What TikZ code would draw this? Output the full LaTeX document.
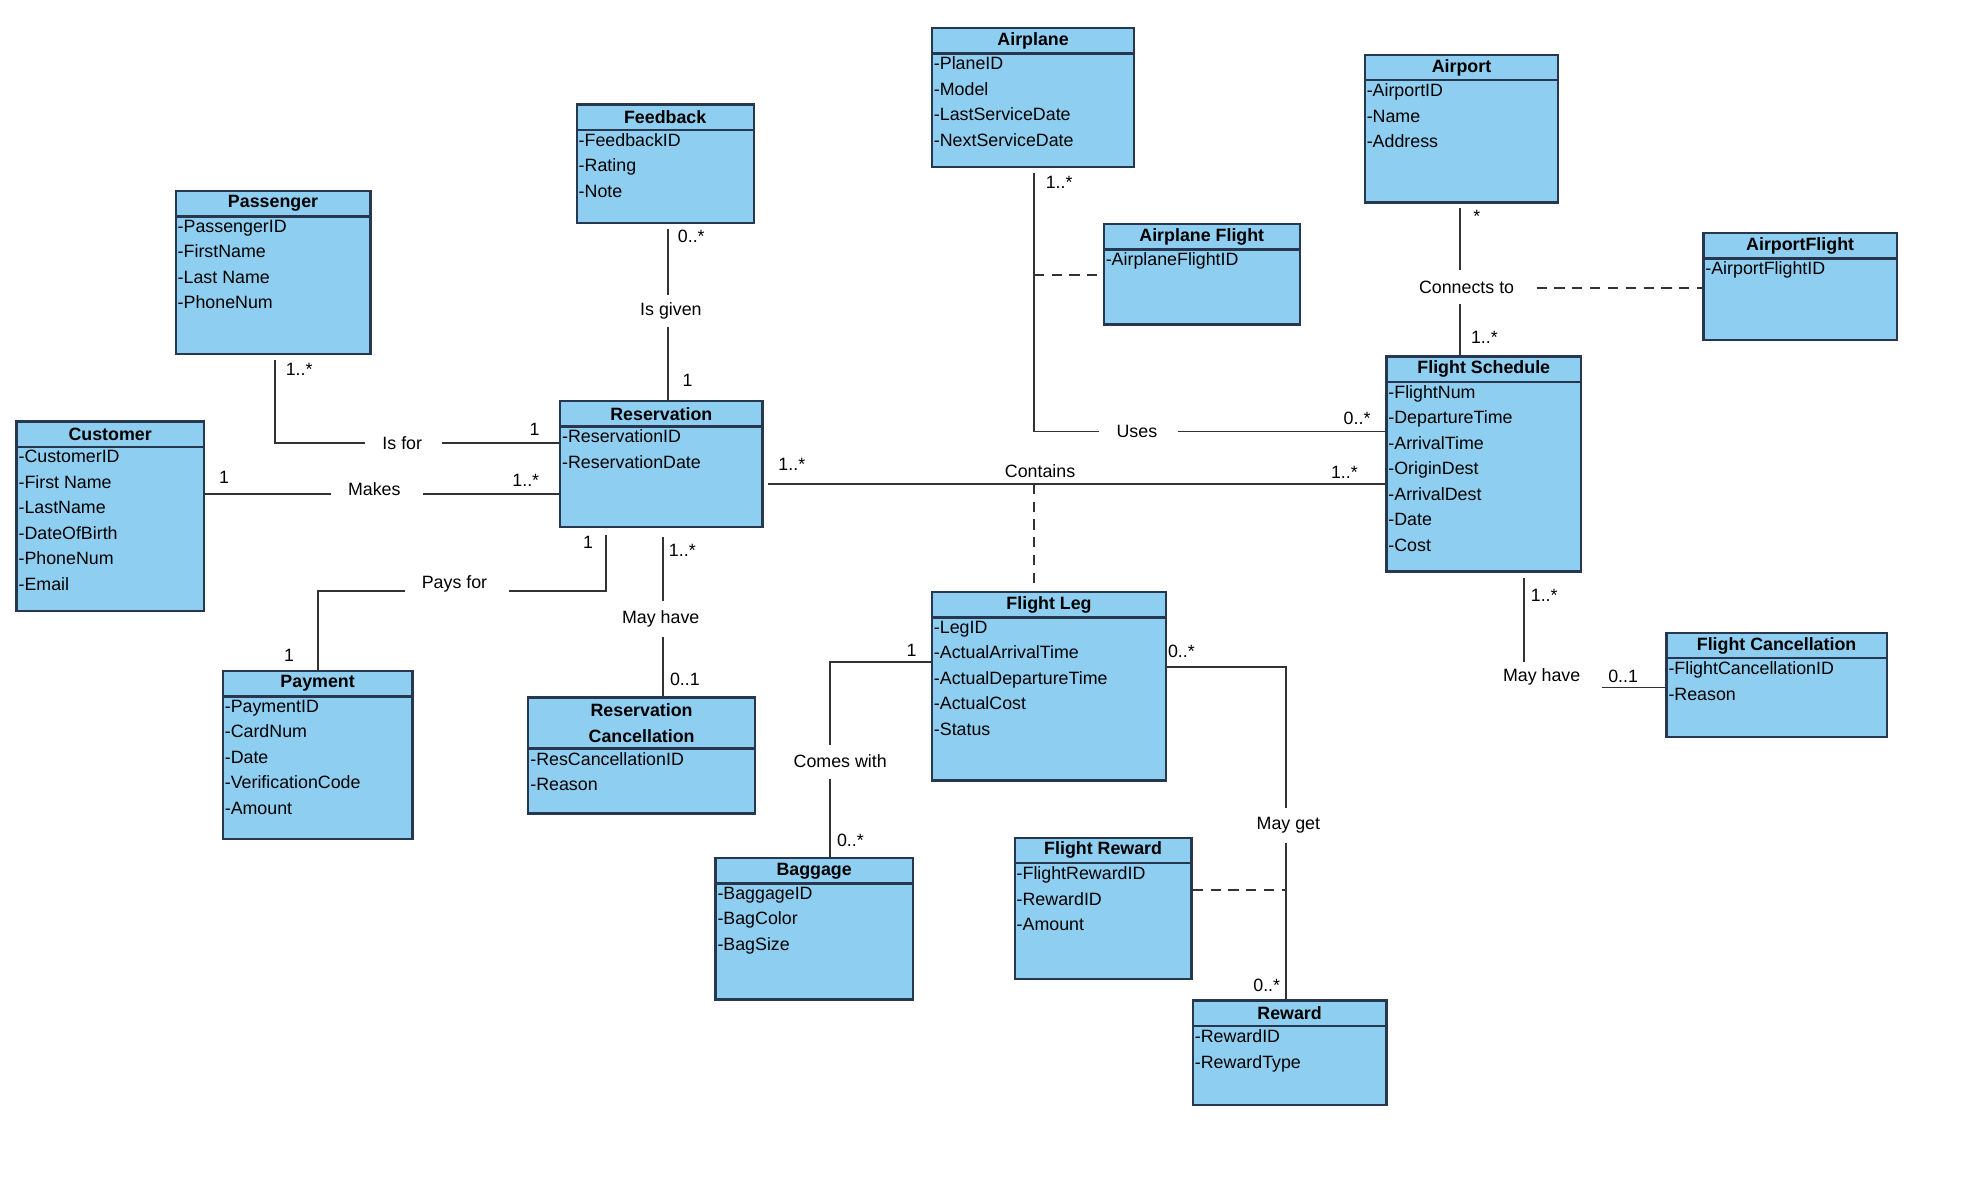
\documentclass[tikz,border=0pt]{standalone}
\usepackage{fontspec}
\setmainfont{Liberation Sans}
\usetikzlibrary{fit}
\definecolor{cfill}{RGB}{142,206,240}
\definecolor{cline}{RGB}{40,55,80}
\newcommand\umlc[8]{%
\node[box, fit={(#2,#3) (#4,#5)}] (#1) {};
\draw[cline, line width=0.9pt] (#2,#3+#6) -- (#4,#3+#6);
\node[ttl, align=center] at ({(#2+#4)/2},{#3+#6/2}) {#7};
\node[att, anchor=north west] at (#2,#3+#6) {#8};}
\begin{document}
\begin{tikzpicture}[x=0.5pt,y=-0.5pt,
 box/.style={draw=cline, fill=cfill, line width=0.9pt, inner sep=0pt},
 ttl/.style={font=\fontsize{7}{10}\selectfont\bfseries, inner sep=0pt},
 att/.style={font=\fontsize{7}{10}\selectfont, align=left, inner sep=1.2pt, xshift=-0.6pt},
 lbl/.style={font=\fontsize{7}{9}\selectfont, inner sep=1pt},
 ln/.style={draw=black!80, line width=0.7pt},
 dsh/.style={draw=black!80, line width=0.7pt, dash pattern=on 4pt off 3pt}]
\useasboundingbox (0,0) rectangle (1560,924);
\umlc{apl}{732}{22}{891}{131}{20}{Airplane}{-PlaneID\\-Model\\-LastServiceDate\\-NextServiceDate}
\umlc{apt}{1072}{43}{1224}{159}{20}{Airport}{-AirportID\\-Name\\-Address}
\umlc{fb}{453}{82}{592}{175}{20}{Feedback}{-FeedbackID\\-Rating\\-Note}
\umlc{pas}{138}{150}{291}{278}{20}{Passenger}{-PassengerID\\-FirstName\\-Last Name\\-PhoneNum}
\umlc{apf}{867}{176}{1021}{255}{20}{Airplane Flight}{-AirplaneFlightID}
\umlc{aptf}{1338}{183}{1490}{267}{20}{AirportFlight}{-AirportFlightID}
\umlc{fs}{1089}{280}{1242}{449}{20}{Flight Schedule}{-FlightNum\\-DepartureTime\\-ArrivalTime\\-OriginDest\\-ArrivalDest\\-Date\\-Cost}
\umlc{cus}{13}{331}{160}{480}{20}{Customer}{-CustomerID\\-First Name\\-LastName\\-DateOfBirth\\-PhoneNum\\-Email}
\umlc{res}{440}{315}{599}{414}{20}{Reservation}{-ReservationID\\-ReservationDate}
\umlc{fl}{732}{465}{916}{613}{20}{Flight Leg}{-LegID\\-ActualArrivalTime\\-ActualDepartureTime\\-ActualCost\\-Status}
\umlc{fc}{1309}{497}{1482}{579}{20}{Flight Cancellation}{-FlightCancellationID\\-Reason}
\umlc{pay}{175}{527}{324}{659}{20}{Payment}{-PaymentID\\-CardNum\\-Date\\-VerificationCode\\-Amount}
\umlc{rc}{415}{548}{593}{639}{40}{Reservation\\Cancellation}{-ResCancellationID\\-Reason}
\umlc{bag}{562}{674}{717}{785}{20}{Baggage}{-BaggageID\\-BagColor\\-BagSize}
\umlc{fr}{797}{658}{936}{769}{20}{Flight Reward}{-FlightRewardID\\-RewardID\\-Amount}
\umlc{rw}{937}{786}{1089}{868}{20}{Reward}{-RewardID\\-RewardType}
% Passenger - Reservation
\draw[ln] (216,283) -- (216,348) -- (287,348);
\node[lbl] (l1) at (316,348) {Is for};
\draw[ln] (347,348) -- (res.west |- 0,348);
\node[lbl] at (235,290) {1..*}; \node[lbl] at (420,337) {1};
% Customer - Reservation
\draw[ln] (cus.east |- 0,388) -- (260,388);
\node[lbl] at (294,384) {Makes};
\draw[ln] (332,388) -- (res.west |- 0,388);
\node[lbl] at (176,375) {1}; \node[lbl] at (413,377) {1..*};
% Feedback - Reservation
\draw[ln] (525,180) -- (525,232);
\node[lbl] at (527,244) {Is given};
\draw[ln] (525,257) -- (res.north -| 525,0);
\node[lbl] at (543,186) {0..*}; \node[lbl] at (540,299) {1};
% Reservation - Payment
\draw[ln] (476,420) -- (476,464) -- (400,464);
\node[lbl] at (357,459) {Pays for};
\draw[ln] (318,464) -- (250,464) -- (pay.north -| 250,0);
\node[lbl] at (462,426) {1}; \node[lbl] at (227,515) {1};
% Reservation - Reservation Cancellation
\draw[ln] (521,422) -- (521,472);
\node[lbl] at (519,486) {May have};
\draw[ln] (521,500) -- (rc.north -| 521,0);
\node[lbl] at (536,432) {1..*}; \node[lbl] at (538,534) {0..1};
% Reservation - Flight Schedule
\draw[ln] (603,380) -- (fs.west |- 0,380);
\node[lbl] at (817,370) {Contains};
\node[lbl] at (622,365) {1..*}; \node[lbl] at (1056,371) {1..*};
\draw[dsh] (812,380) -- (fl.north -| 812,0);
% Airplane - Flight Schedule
\draw[ln] (812,136) -- (812,339) -- (863,339);
\node[lbl] at (893,339) {Uses};
\draw[ln] (925,339) -- (fs.west |- 0,339);
\node[lbl] at (832,143) {1..*}; \node[lbl] at (1066,329) {0..*};
\draw[dsh] (812,216) -- (apf.west |- 0,216);
% Airport - Flight Schedule
\draw[ln] (1147,163) -- (1147,212);
\node[lbl] at (1152,226) {Connects to};
\draw[ln] (1147,239) -- (fs.north -| 1147,0);
\node[lbl] at (1160,170) {*}; \node[lbl] at (1166,265) {1..*};
\draw[dsh] (1207,226) -- (aptf.west |- 0,226);
% Flight Schedule - Flight Cancellation
\draw[ln] (1197,454) -- (1197,520);
\node[lbl] at (1211,532) {May have};
\draw[ln] (1258,540) -- (fc.west |- 0,540);
\node[lbl] at (1213,468) {1..*}; \node[lbl] at (1275,531) {0..1};
% Flight Leg - Baggage
\draw[ln] (fl.west |- 0,520) -- (652,520) -- (652,585);
\node[lbl] at (660,598) {Comes with};
\draw[ln] (652,612) -- (bag.north -| 652,0);
\node[lbl] at (716,511) {1}; \node[lbl] at (668,660) {0..*};
% Flight Leg - Reward
\draw[ln] (fl.east |- 0,524) -- (1010,524) -- (1010,635);
\node[lbl] at (1012,648) {May get};
\draw[ln] (1010,662) -- (rw.north -| 1010,0);
\node[lbl] at (928,512) {0..*}; \node[lbl] at (995,774) {0..*};
\draw[dsh] (fr.east |- 0,699) -- (1010,699);
\end{tikzpicture}
\end{document}
